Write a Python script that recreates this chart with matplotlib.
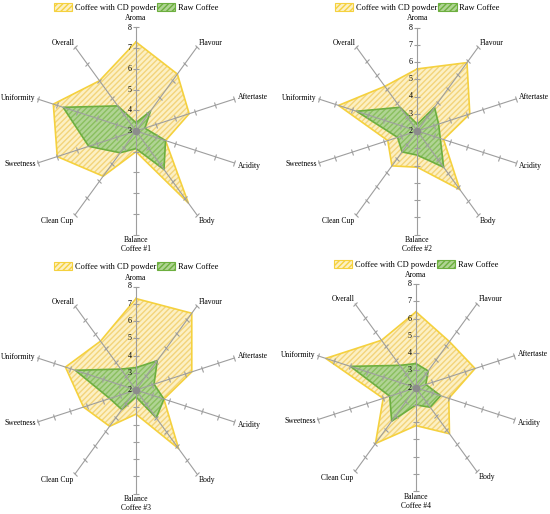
import numpy as np
import matplotlib
matplotlib.use('Agg')
import matplotlib.pyplot as plt
from matplotlib.markers import MarkerStyle
from matplotlib.transforms import Affine2D
from matplotlib.patches import Patch

plt.rcParams['font.family'] = ['Liberation Serif', 'DejaVu Serif']
plt.rcParams['hatch.linewidth'] = 1.0

categories = ['Aroma', 'Flavour', 'Aftertaste', 'Acidity', 'Body', 'Balance',
              'Clean Cup', 'Sweetness', 'Uniformity', 'Overall']
series_labels = ['Coffee with CD powder', 'Raw Coffee']
titles = ['Coffee #1', 'Coffee #2', 'Coffee #3', 'Coffee #4']
r_min = [3, 2, 2, 2]
r_max = 8

cd_1 = [7.3, 6.4, 5.7, 4.5, 7.3, 4.0, 5.7, 7.0, 7.2, 6.0]
raw_1 = [3.4, 4.2, 3.45, 4.5, 5.3, 3.85, 4.3, 5.4, 6.7, 4.5]
cd_2 = [5.6, 6.9, 5.2, 3.6, 6.2, 4.1, 4.5, 3.8, 6.8, 5.2]
raw_2 = [2.4, 3.7, 3.3, 3.4, 4.6, 3.4, 3.5, 3.2, 5.7, 3.7]
cd_3 = [7.3, 7.5, 5.4, 3.7, 6.2, 3.4, 4.6, 5.2, 6.3, 5.5]
raw_3 = [3.3, 4.1, 3.1, 3.7, 4.0, 2.4, 3.4, 3.6, 5.7, 3.5]
cd_4 = [6.4, 5.3, 5.6, 4.0, 5.3, 4.2, 6.0, 4.0, 7.5, 5.4]
raw_4 = [3.4, 3.2, 2.6, 3.5, 3.4, 3.0, 4.4, 3.6, 6.0, 3.6]

cd_series = [cd_1, cd_2, cd_3, cd_4]
raw_series = [raw_1, raw_2, raw_3, raw_4]

# styles
Y_FACE, Y_HATCH, Y_EDGE = '#FCF0C4', '#F3D47A', '#F5D13E'
G_FACE, G_HATCH, G_EDGE = '#B0D494', '#8ABF5E', '#6DAF3F'
AX_COL = '#9E9E9E'

W, H = 550, 514
fig = plt.figure(figsize=(W / 100, H / 100), dpi=100)
centers = [(136, 131), (417.3, 131), (136, 390), (416, 387.7)]
R = 103.5

# label offsets (pixels) relative to axis end, with alignment
label_style = [
    ((0, 9), 'center', 'center'),
    ((2, 4.5), 'left', 'center'),
    ((3, 2), 'left', 'center'),
    ((3, -3.5), 'left', 'center'),
    ((2, -6), 'left', 'center'),
    ((0, -5.6), 'center', 'center'),
    ((-2, -6.5), 'right', 'center'),
    ((-2, -1.5), 'right', 'center'),
    ((-2, 1), 'right', 'center'),
    ((-1, 4.5), 'right', 'center'),
]

theta = np.deg2rad(np.arange(len(categories)) * 360.0 / len(categories))
theta_c = np.append(theta, theta[0])

for k in range(4):
    cx, cy = centers[k]
    rect = [(cx - R) / W, (H - cy - R) / H, 2 * R / W, 2 * R / H]
    ax = fig.add_axes(rect, projection='polar')
    ax.set_theta_zero_location('N')
    ax.set_theta_direction(-1)
    ax.set_ylim(r_min[k], r_max)
    ax.set_xticks([])
    ax.set_yticks([])
    ax.grid(False)
    ax.spines['polar'].set_visible(False)
    ax.patch.set_alpha(0)

    cd = np.array(cd_series[k])
    raw = np.array(raw_series[k])
    cd_c = np.append(cd, cd[0])
    raw_c = np.append(raw, raw[0])

    ax.fill(theta_c, cd_c, facecolor=Y_FACE, edgecolor=Y_HATCH, hatch='//////',
            linewidth=0, zorder=1)
    ax.plot(theta_c, cd_c, color=Y_EDGE, lw=1.2, zorder=2)
    ax.fill(theta_c, raw_c, facecolor=G_FACE, edgecolor=G_HATCH, hatch='//////',
            linewidth=0, zorder=3)
    ax.plot(theta_c, raw_c, color=G_EDGE, lw=1.2, zorder=4)

    ticks = np.arange(r_min[k] + 1, r_max + 1)
    for i, t in enumerate(theta):
        ax.plot([t, t], [r_min[k], r_max], color=AX_COL, lw=0.8, zorder=5,
                clip_on=False)
        ms = MarkerStyle('_', transform=Affine2D().rotate_deg(-np.rad2deg(t)))
        ax.plot(np.full(len(ticks), t), ticks, linestyle='none', marker=ms,
                markersize=4.3, markeredgewidth=0.8, color=AX_COL, zorder=5,
                clip_on=False)
        (dx, dy), ha, va = label_style[i]
        ax.annotate(categories[i], xy=(t, r_max), xytext=(dx, dy),
                    textcoords='offset pixels', ha=ha, va=va, fontsize=5.5,
                    annotation_clip=False)
    ax.annotate(titles[k], xy=(np.pi, r_max), xytext=(0, -14.6),
                textcoords='offset pixels', ha='center', va='center',
                fontsize=5.5, annotation_clip=False)

    for v in np.arange(r_min[k], r_max + 1):
        ax.annotate(str(v), xy=(0, v), xytext=(-4.5, 0),
                    textcoords='offset pixels', ha='right', va='center',
                    fontsize=5.8, annotation_clip=False, zorder=6)

    ax.plot([0], [r_min[k]], marker='o', color='#8C8C8C', markersize=4.5,
            zorder=7, clip_on=False)

    handles = [Patch(facecolor=Y_FACE, edgecolor=Y_EDGE, hatch='//////', lw=0.8),
               Patch(facecolor=G_FACE, edgecolor=G_EDGE, hatch='//////', lw=0.8)]
    ax.legend(handles, series_labels, loc='center', bbox_to_anchor=(0.5, 1.097),
              ncol=2, frameon=False, fontsize=6, handlelength=2.2,
              handleheight=1.15, handletextpad=0.3, columnspacing=0.15,
              borderpad=0, borderaxespad=0)

fig.savefig('out.png', dpi=100)
